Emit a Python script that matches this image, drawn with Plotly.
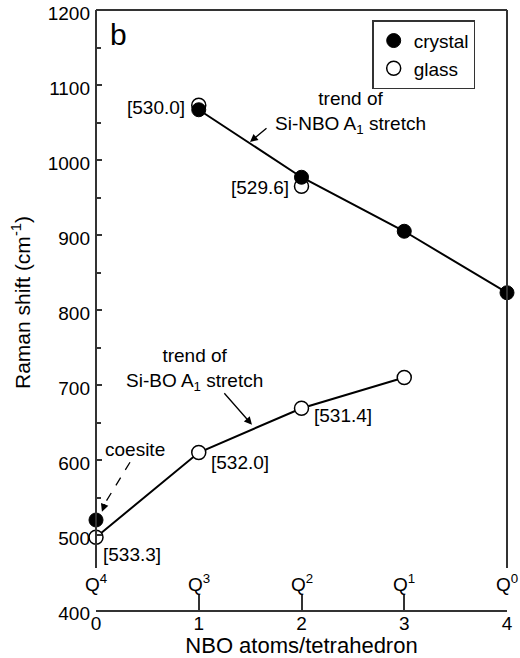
import plotly.graph_objects as go

# NBO atoms per tetrahedron and the Q-species that go with them
nbo = [0, 1, 2, 3, 4]
q_species = ["Q<sup>4</sup>", "Q<sup>3</sup>", "Q<sup>2</sup>", "Q<sup>1</sup>", "Q<sup>0</sup>"]

# Raman shift (cm-1), crystals
crystal_shift = [520, 1067, 977, 905, 823]

# Raman shift (cm-1), glasses: Si-BO band (Q4..Q1) and Si-NBO band (Q3, Q2)
glass_bo_nbo = [0, 1, 2, 3]
glass_bo_shift = [497, 610, 669, 710]
glass_nbo_nbo = [1, 2]
glass_nbo_shift = [1073, 965]

# O 1s binding energies (eV) printed next to the glass points
o1s_bo = ["[533.3]", "[532.0]", "[531.4]", None]
o1s_nbo = ["[530.0]", "[529.6]"]

y_major = [400, 500, 600, 700, 800, 900, 1000, 1100, 1200]
y_minor = [550, 650, 750, 850, 950, 1050, 1150]

FONT = "Liberation Sans, Arial, sans-serif"
AX = "#333333"

fig = go.Figure()

# trend lines
fig.add_trace(go.Scatter(
    x=nbo[1:], y=crystal_shift[1:], mode="lines",
    line=dict(color="black", width=2), showlegend=False, hoverinfo="skip"
))
fig.add_trace(go.Scatter(
    x=glass_bo_nbo, y=glass_bo_shift, mode="lines",
    line=dict(color="black", width=2), showlegend=False, hoverinfo="skip"
))

# glass points (drawn under the crystal ones)
fig.add_trace(go.Scatter(
    x=glass_bo_nbo + glass_nbo_nbo, y=glass_bo_shift + glass_nbo_shift,
    mode="markers", name="glass", cliponaxis=False,
    marker=dict(size=14, color="white", line=dict(color="black", width=1.5))
))
fig.add_trace(go.Scatter(
    x=nbo, y=crystal_shift, mode="markers", name="crystal", cliponaxis=False,
    marker=dict(size=14, color="black", line=dict(color="black", width=1))
))

ann = []

# O 1s labels
ann.append(dict(x=glass_nbo_nbo[0], y=glass_nbo_shift[0], text=o1s_nbo[0],
                xanchor="right", yanchor="middle", xshift=-12, yshift=-2))
ann.append(dict(x=glass_nbo_nbo[1], y=glass_nbo_shift[1], text=o1s_nbo[1],
                xanchor="right", yanchor="middle", xshift=-11, yshift=-1))
ann.append(dict(x=glass_bo_nbo[0], y=glass_bo_shift[0], text=o1s_bo[0],
                xanchor="left", yanchor="top", xshift=5, yshift=-5))
ann.append(dict(x=glass_bo_nbo[1], y=glass_bo_shift[1], text=o1s_bo[1],
                xanchor="left", yanchor="middle", xshift=10, yshift=-10))
ann.append(dict(x=glass_bo_nbo[2], y=glass_bo_shift[2], text=o1s_bo[2],
                xanchor="left", yanchor="middle", xshift=10, yshift=-7))

# trend captions
ann.append(dict(x=1.72, y=1063, text="trend of<br>Si-NBO A<sub>1</sub> stretch",
                xanchor="left", yanchor="middle", align="center"))
ann.append(dict(x=0.954, y=721, text="trend of<br>Si-BO A<sub>1</sub> stretch",
                xanchor="center", yanchor="middle", align="center"))
ann.append(dict(x=0.07, y=614, text="coesite", xanchor="left", yanchor="middle"))

# arrows
ann.append(dict(x=1.499, y=1024, ax=1.674, ay=1044, axref="x", ayref="y", text="",
                showarrow=True, arrowhead=2, arrowsize=1.2, arrowwidth=1.3, arrowcolor="black"))
ann.append(dict(x=1.518, y=647, ax=1.236, ay=691, axref="x", ayref="y", text="",
                showarrow=True, arrowhead=2, arrowsize=1.2, arrowwidth=1.3, arrowcolor="black"))
ann.append(dict(x=0.058, y=531, ax=0.09, ay=543, axref="x", ayref="y", text="",
                showarrow=True, arrowhead=2, arrowsize=1.2, arrowwidth=1.3, arrowcolor="black"))

# Q species row
for xv, q in zip(nbo, q_species):
    ann.append(dict(x=xv, y=0.045, yref="paper", text=q, xanchor="center",
                    yanchor="middle", showarrow=False))

# panel letter and y title
ann.append(dict(x=0.03, y=0.99, xref="paper", yref="paper", text="b", showarrow=False,
                xanchor="left", yanchor="top", font=dict(size=30, family=FONT, color="black")))
ann.append(dict(x=-0.182, y=0.512, xref="paper", yref="paper", text="Raman shift (cm<sup>-1</sup>)",
                textangle=-90, showarrow=False, xanchor="center", yanchor="middle",
                font=dict(size=21, family=FONT, color="black")))

for a in ann:
    a.setdefault("showarrow", False)
    a.setdefault("font", dict(size=19, family=FONT, color="black"))
fig.update_layout(annotations=ann)

# frame: left/right spines stop above the Q row, bottom axis is separate
gap = 0.07
fig.add_shape(type="line", xref="paper", yref="paper", x0=0, x1=0, y0=gap, y1=1,
              line=dict(color=AX, width=2))
fig.add_shape(type="line", xref="paper", yref="paper", x0=0, x1=1, y0=1, y1=1,
              line=dict(color=AX, width=2))
fig.add_shape(type="line", xref="paper", yref="paper", x0=1, x1=1, y0=gap, y1=1,
              line=dict(color=AX, width=2))
# dashed shaft of the coesite arrow
fig.add_shape(type="line", xref="x", yref="y", x0=0.331, y0=597, x1=0.09, y1=543,
              line=dict(color="black", width=1.3, dash="dash"))

fig.update_xaxes(
    range=[0, 4], tickvals=nbo, ticks="inside", ticklen=15, tickwidth=2, tickcolor=AX,
    showline=True, linewidth=2, linecolor=AX, showgrid=False, zeroline=False,
    ticklabelstandoff=-5, automargin=False,
    tickfont=dict(size=19, family=FONT, color="black"),
    title=dict(text="NBO atoms/tetrahedron", font=dict(size=22, family=FONT, color="black"),
               standoff=0)
)
fig.update_yaxes(
    range=[400, 1200], tickvals=y_major, ticks="inside", ticklen=6, tickwidth=1.5, tickcolor=AX,
    minor=dict(tickvals=y_minor, ticks="inside", ticklen=5, tickwidth=1.5, tickcolor=AX),
    showline=False, showgrid=False, zeroline=False, ticklabelstandoff=5,
    ticklabelshift=3, ticklabeloverflow="allow", automargin=False,
    tickfont=dict(size=19, family=FONT, color="black")
)

fig.update_layout(
    width=520, height=658,
    margin=dict(l=96, r=13, t=10, b=48, autoexpand=False),
    plot_bgcolor="white", paper_bgcolor="white",
    font=dict(family=FONT, color="black"),
    legend=dict(x=0.672, y=0.983, xanchor="left", yanchor="top",
                bordercolor=AX, borderwidth=1.5, bgcolor="white",
                font=dict(size=19, family=FONT, color="black"),
                traceorder="reversed", itemwidth=30, tracegroupgap=0),
    showlegend=True
)

# drop the browser's default body margin so the figure sits at the page corner
fig.write_html("out.html", config={"displayModeBar": False},
               post_script="document.body.style.margin='0';document.body.style.overflow='hidden';")
